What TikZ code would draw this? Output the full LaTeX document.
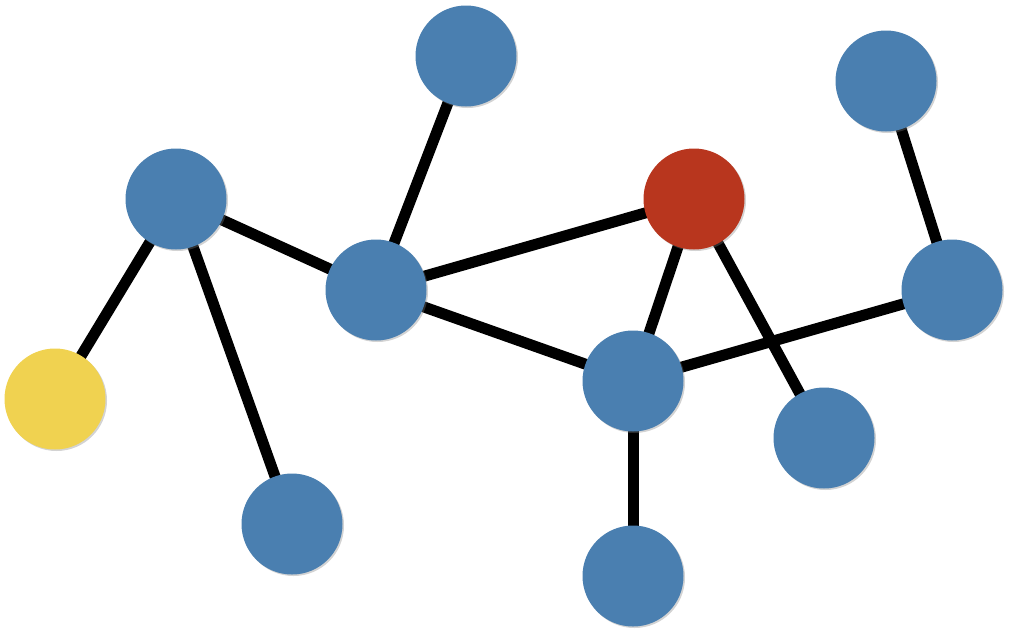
\documentclass[tikz,border=0pt]{standalone}
\usetikzlibrary{shadows,backgrounds}
\definecolor{nodeblue}{RGB}{74,127,176}
\definecolor{nodered}{RGB}{184,54,30}
\definecolor{nodeyellow}{RGB}{240,210,80}

\begin{document}
\begin{tikzpicture}[x=1pt,y=-1pt,inner sep=0pt]
		\tikzstyle{every node}=[circle,minimum size=101pt,fill=nodeblue,
			drop shadow={shadow xshift=1.5pt,shadow yshift=-1.5pt,opacity=0.35}]
		\tikzstyle{link}=[draw=black,line width=11pt]
		\useasboundingbox (0,0) rectangle (1011,638);

		\node[fill=nodeyellow] (1) at (55,399) {};
		\node (2) at (176,199) {};
		\node (3) at (292,524) {};
		\node (4) at (376,290) {};
		\node (5) at (466,56) {};
		\node[fill=nodered] (6) at (694,199) {};
		\node (7) at (633,381) {};
		\node (8) at (633,576) {};
		\node (9) at (824,438) {};
		\node (10) at (952,290) {};
		\node (11) at (886,81) {};

		\begin{scope}[on background layer]
		\path[link]
			(1.center) edge[link] (2.center)
			(2.center) edge[link] (3.center)
				edge[link] (4.center)
			(4.center) edge[link] (5.center)
				edge[link] (6.center)
				edge[link] (7.center)
			(6.center) edge[link] (7.center)
				edge[link] (9.center)
			(7.center) edge[link] (8.center)
				edge[link] (10.center)
			(10.center) edge[link] (11.center);
		\end{scope}
\end{tikzpicture}
\end{document}
